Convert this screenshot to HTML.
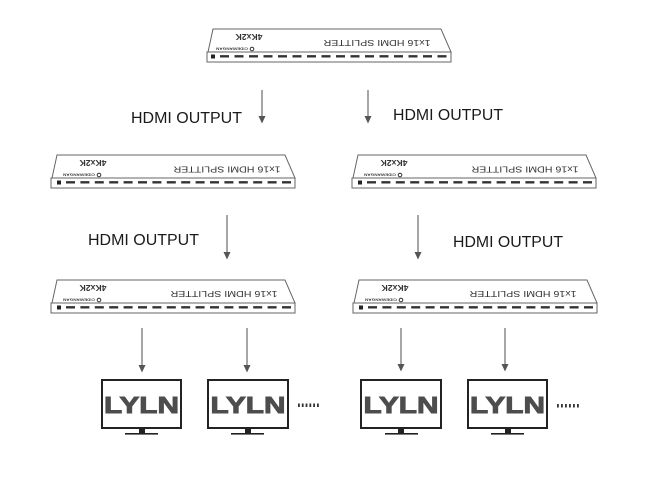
<!DOCTYPE html>
<html><head><meta charset="utf-8"><style>
html,body{margin:0;padding:0;background:#fff;}
svg{display:block;}
.lbl{font-family:"Liberation Sans",Arial,sans-serif;font-size:16px;fill:#1a1a1a;}
.sp{font-family:"Liberation Sans",Arial,sans-serif;}
.tvt{font-family:"Liberation Sans",Arial,sans-serif;font-weight:bold;font-size:23px;fill:#4d4d4d;stroke:#4d4d4d;stroke-width:0.9px;}
</style></head><body>
<svg width="650" height="485" viewBox="0 0 650 485" xmlns="http://www.w3.org/2000/svg">
<rect width="650" height="485" fill="#fff"/>

<!-- Splitter top -->
<g transform="translate(205,29)">
  <polygon points="8,0 236,0 246,23 3,23" fill="#fff" stroke="#666" stroke-width="1"/>
  <rect x="2" y="23" width="244" height="10" fill="#fff" stroke="#666" stroke-width="1"/>
  <rect x="6" y="25.5" width="4" height="4" fill="#222"/>
  <line x1="15" y1="27.3" x2="242" y2="27.3" stroke="#333" stroke-width="2.4" stroke-dasharray="9 5.5"/>
  <text class="sp" x="172" y="18" font-size="8.5" fill="#333" text-anchor="middle" textLength="107" lengthAdjust="spacingAndGlyphs" transform="rotate(180 172 14.5)">1x16 HDMI SPLITTER</text>
  <text class="sp" x="44" y="11" font-size="8" font-weight="bold" fill="#333" text-anchor="middle" textLength="27" lengthAdjust="spacingAndGlyphs" transform="rotate(180 44 8)">4Kx2K</text>
  <text class="sp" x="27" y="21.3" font-size="3.8" font-weight="bold" fill="#444" text-anchor="middle" textLength="32" lengthAdjust="spacingAndGlyphs" transform="rotate(180 27 20)">CIDEWANGAN</text>
  <circle cx="47" cy="20" r="1.8" fill="none" stroke="#333" stroke-width="1"/>
</g>

<!-- Splitter middle-left -->
<g transform="translate(49,155)">
  <polygon points="8,0 236,0 246,23 3,23" fill="#fff" stroke="#666" stroke-width="1"/>
  <rect x="2" y="23" width="244" height="10" fill="#fff" stroke="#666" stroke-width="1"/>
  <rect x="8" y="25.5" width="4" height="4" fill="#222"/>
  <line x1="17" y1="27.3" x2="243" y2="27.3" stroke="#333" stroke-width="2.4" stroke-dasharray="9 5.4"/>
  <text class="sp" x="178" y="18.5" font-size="8.5" fill="#333" text-anchor="middle" textLength="107" lengthAdjust="spacingAndGlyphs" transform="rotate(180 178 15)">1x16 HDMI SPLITTER</text>
  <text class="sp" x="44" y="11" font-size="8" font-weight="bold" fill="#333" text-anchor="middle" textLength="27" lengthAdjust="spacingAndGlyphs" transform="rotate(180 44 8)">4Kx2K</text>
  <text class="sp" x="30" y="21.3" font-size="3.8" font-weight="bold" fill="#444" text-anchor="middle" textLength="32" lengthAdjust="spacingAndGlyphs" transform="rotate(180 30 20)">CIDEWANGAN</text>
  <circle cx="50" cy="20" r="1.8" fill="none" stroke="#333" stroke-width="1"/>
</g>

<!-- Splitter middle-right -->
<g transform="translate(350,155)">
  <polygon points="8,0 236,0 246,23 3,23" fill="#fff" stroke="#666" stroke-width="1"/>
  <rect x="2" y="23" width="244" height="10" fill="#fff" stroke="#666" stroke-width="1"/>
  <rect x="8" y="25.5" width="4" height="4" fill="#222"/>
  <line x1="17" y1="27.3" x2="243" y2="27.3" stroke="#333" stroke-width="2.4" stroke-dasharray="9 5.4"/>
  <text class="sp" x="175" y="18.5" font-size="8.5" fill="#333" text-anchor="middle" textLength="107" lengthAdjust="spacingAndGlyphs" transform="rotate(180 175 15)">1x16 HDMI SPLITTER</text>
  <text class="sp" x="44" y="11" font-size="8" font-weight="bold" fill="#333" text-anchor="middle" textLength="27" lengthAdjust="spacingAndGlyphs" transform="rotate(180 44 8)">4Kx2K</text>
  <text class="sp" x="30" y="21.3" font-size="3.8" font-weight="bold" fill="#444" text-anchor="middle" textLength="32" lengthAdjust="spacingAndGlyphs" transform="rotate(180 30 20)">CIDEWANGAN</text>
  <circle cx="50" cy="20" r="1.8" fill="none" stroke="#333" stroke-width="1"/>
</g>

<!-- Splitter bottom-left -->
<g transform="translate(49,280)">
  <polygon points="8,0 236,0 246,23 3,23" fill="#fff" stroke="#666" stroke-width="1"/>
  <rect x="2" y="23" width="244" height="10" fill="#fff" stroke="#666" stroke-width="1"/>
  <rect x="8" y="25.5" width="4" height="4" fill="#222"/>
  <line x1="17" y1="27.3" x2="243" y2="27.3" stroke="#333" stroke-width="2.4" stroke-dasharray="9 5.4"/>
  <text class="sp" x="175" y="18" font-size="8.5" fill="#333" text-anchor="middle" textLength="107" lengthAdjust="spacingAndGlyphs" transform="rotate(180 175 14.5)">1x16 HDMI SPLITTER</text>
  <text class="sp" x="44" y="11" font-size="8" font-weight="bold" fill="#333" text-anchor="middle" textLength="27" lengthAdjust="spacingAndGlyphs" transform="rotate(180 44 8)">4Kx2K</text>
  <text class="sp" x="30" y="21.3" font-size="3.8" font-weight="bold" fill="#444" text-anchor="middle" textLength="32" lengthAdjust="spacingAndGlyphs" transform="rotate(180 30 20)">CIDEWANGAN</text>
  <circle cx="50" cy="20" r="1.8" fill="none" stroke="#333" stroke-width="1"/>
</g>

<!-- Splitter bottom-right -->
<g transform="translate(351,280)">
  <polygon points="8,0 236,0 246,23 3,23" fill="#fff" stroke="#666" stroke-width="1"/>
  <rect x="2" y="23" width="244" height="10" fill="#fff" stroke="#666" stroke-width="1"/>
  <rect x="8" y="25.5" width="4" height="4" fill="#222"/>
  <line x1="17" y1="27.3" x2="243" y2="27.3" stroke="#333" stroke-width="2.4" stroke-dasharray="9 5.4"/>
  <text class="sp" x="172" y="18" font-size="8.5" fill="#333" text-anchor="middle" textLength="107" lengthAdjust="spacingAndGlyphs" transform="rotate(180 172 14.5)">1x16 HDMI SPLITTER</text>
  <text class="sp" x="44" y="11" font-size="8" font-weight="bold" fill="#333" text-anchor="middle" textLength="27" lengthAdjust="spacingAndGlyphs" transform="rotate(180 44 8)">4Kx2K</text>
  <text class="sp" x="30" y="21.3" font-size="3.8" font-weight="bold" fill="#444" text-anchor="middle" textLength="32" lengthAdjust="spacingAndGlyphs" transform="rotate(180 30 20)">CIDEWANGAN</text>
  <circle cx="50" cy="20" r="1.8" fill="none" stroke="#333" stroke-width="1"/>
</g>

<!-- Labels -->
<text class="lbl" x="131" y="123" textLength="111" lengthAdjust="spacingAndGlyphs">HDMI OUTPUT</text>
<text class="lbl" x="393" y="120" textLength="110" lengthAdjust="spacingAndGlyphs">HDMI OUTPUT</text>
<text class="lbl" x="88" y="245" textLength="111" lengthAdjust="spacingAndGlyphs">HDMI OUTPUT</text>
<text class="lbl" x="453" y="247" textLength="110" lengthAdjust="spacingAndGlyphs">HDMI OUTPUT</text>

<!-- Arrows -->
<g stroke="#6a6a6a" stroke-width="1.2">
  <line x1="262" y1="90" x2="262" y2="118"/>
  <line x1="368" y1="90" x2="368" y2="118"/>
  <line x1="227" y1="215" x2="227" y2="254"/>
  <line x1="418" y1="215" x2="418" y2="254"/>
  <line x1="142" y1="328" x2="142" y2="367"/>
  <line x1="247" y1="328" x2="247" y2="367"/>
  <line x1="401" y1="328" x2="401" y2="367"/>
  <line x1="505" y1="328" x2="505" y2="367"/>
</g>
<g fill="#555">
  <polygon points="258.5,116 265.5,116 262,123.5"/>
  <polygon points="364.5,116 371.5,116 368,123.5"/>
  <polygon points="223.5,252 230.5,252 227,259.5"/>
  <polygon points="414.5,252 421.5,252 418,259.5"/>
  <polygon points="138.5,365 145.5,365 142,372.5"/>
  <polygon points="243.5,365 250.5,365 247,372.5"/>
  <polygon points="397.5,364 404.5,364 401,371.5"/>
  <polygon points="501.5,364 508.5,364 505,371.5"/>
</g>

<!-- TVs -->
<g>
  <rect x="102" y="380" width="79" height="48" fill="#fff" stroke="#222" stroke-width="2"/>
  <rect x="139" y="429" width="6" height="4" fill="#222"/>
  <rect x="125" y="433" width="33" height="1.6" fill="#222"/>
  <text class="tvt" x="141.5" y="413" text-anchor="middle" textLength="75" lengthAdjust="spacingAndGlyphs">LYLN</text>

  <rect x="208" y="380" width="80" height="48" fill="#fff" stroke="#222" stroke-width="2"/>
  <rect x="245" y="429" width="6" height="4" fill="#222"/>
  <rect x="231" y="433" width="33" height="1.6" fill="#222"/>
  <text class="tvt" x="248" y="413" text-anchor="middle" textLength="75" lengthAdjust="spacingAndGlyphs">LYLN</text>

  <rect x="361" y="380" width="80" height="48" fill="#fff" stroke="#222" stroke-width="2"/>
  <rect x="398" y="429" width="6" height="4" fill="#222"/>
  <rect x="385" y="433" width="33" height="1.6" fill="#222"/>
  <text class="tvt" x="401" y="413" text-anchor="middle" textLength="75" lengthAdjust="spacingAndGlyphs">LYLN</text>

  <rect x="468" y="380" width="79" height="48" fill="#fff" stroke="#222" stroke-width="2"/>
  <rect x="505" y="429" width="6" height="4" fill="#222"/>
  <rect x="491" y="433" width="33" height="1.6" fill="#222"/>
  <text class="tvt" x="507.5" y="413" text-anchor="middle" textLength="75" lengthAdjust="spacingAndGlyphs">LYLN</text>
</g>

<!-- Dots -->
<g fill="#333">
  <rect x="298" y="403.5" width="1.8" height="3.5"/>
  <rect x="301.8" y="403.5" width="1.8" height="3.5"/>
  <rect x="305.6" y="403.5" width="1.8" height="3.5"/>
  <rect x="309.4" y="403.5" width="1.8" height="3.5"/>
  <rect x="313.2" y="403.5" width="1.8" height="3.5"/>
  <rect x="317" y="403.5" width="1.8" height="3.5"/>

  <rect x="557" y="404" width="1.8" height="3.5"/>
  <rect x="561" y="404" width="1.8" height="3.5"/>
  <rect x="565" y="404" width="1.8" height="3.5"/>
  <rect x="569" y="404" width="1.8" height="3.5"/>
  <rect x="573" y="404" width="1.8" height="3.5"/>
  <rect x="577" y="404" width="1.8" height="3.5"/>
</g>
</svg>
</body></html>
